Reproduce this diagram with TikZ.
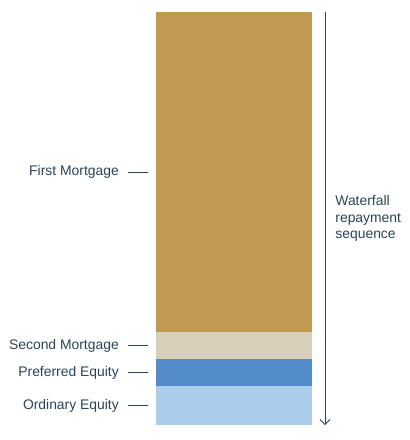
\documentclass[tikz,border=0pt]{standalone}
\usepackage{xcolor}
\usepackage{fontspec}
\setmainfont{Liberation Sans}
\usepackage{tikz}
\usetikzlibrary{arrows.meta, positioning}

\definecolor{ink}{HTML}{2B4457}
\definecolor{gold}{HTML}{C09A50}
\definecolor{sand}{HTML}{D8CFBB}
\definecolor{midblue}{HTML}{538BCB}
\definecolor{paleblue}{HTML}{ABCDEB}

\begin{document}
\begin{tikzpicture}[x=1pt, y=-1pt, node distance=0pt, font=\fontsize{13.9}{16.5}\selectfont]
    \tikzstyle{band} = [rectangle, minimum width=156pt, inner sep=0pt, outer sep=0pt]
    \tikzstyle{tag} = [inner sep=0pt, text=ink]
    \tikzstyle{tick} = [ink, line width=0.8pt]
    \tikzstyle{arrow} = [ink, line width=0.8pt, -{Straight Barb[length=5pt, width=10pt]}]

    \useasboundingbox (0,0) rectangle (410,440);

    \node (first) [band, fill=gold, minimum height=320pt, anchor=north west] at (156,12) {};
    \node (second) [band, fill=sand, minimum height=27pt, below=of first] {};
    \node (preferred) [band, fill=midblue, minimum height=27pt, below=of second] {};
    \node (ordinary) [band, fill=paleblue, minimum height=39pt, below=of preferred] {};

    \node (firsttag) [tag, left=37pt of first] {First Mortgage};
    \node (secondtag) [tag, left=37pt of second] {Second Mortgage};
    \node (preferredtag) [tag, left=37pt of preferred] {Preferred Equity};
    \node (ordinarytag) [tag, left=37pt of ordinary] {Ordinary Equity};

    \foreach \b in {first, second, preferred, ordinary}
        \draw [tick] ([xshift=9pt]\b tag.east) -- ([xshift=-8pt]\b.west);

    \coordinate (top) at ([xshift=13pt]first.north east);
    \coordinate (bottom) at ([xshift=13pt]ordinary.south east);
    \draw [arrow] (top) -- node (sequence) [right=10pt, tag, align=left] {Waterfall\\repayment\\sequence} (bottom);
\end{tikzpicture}
\end{document}
